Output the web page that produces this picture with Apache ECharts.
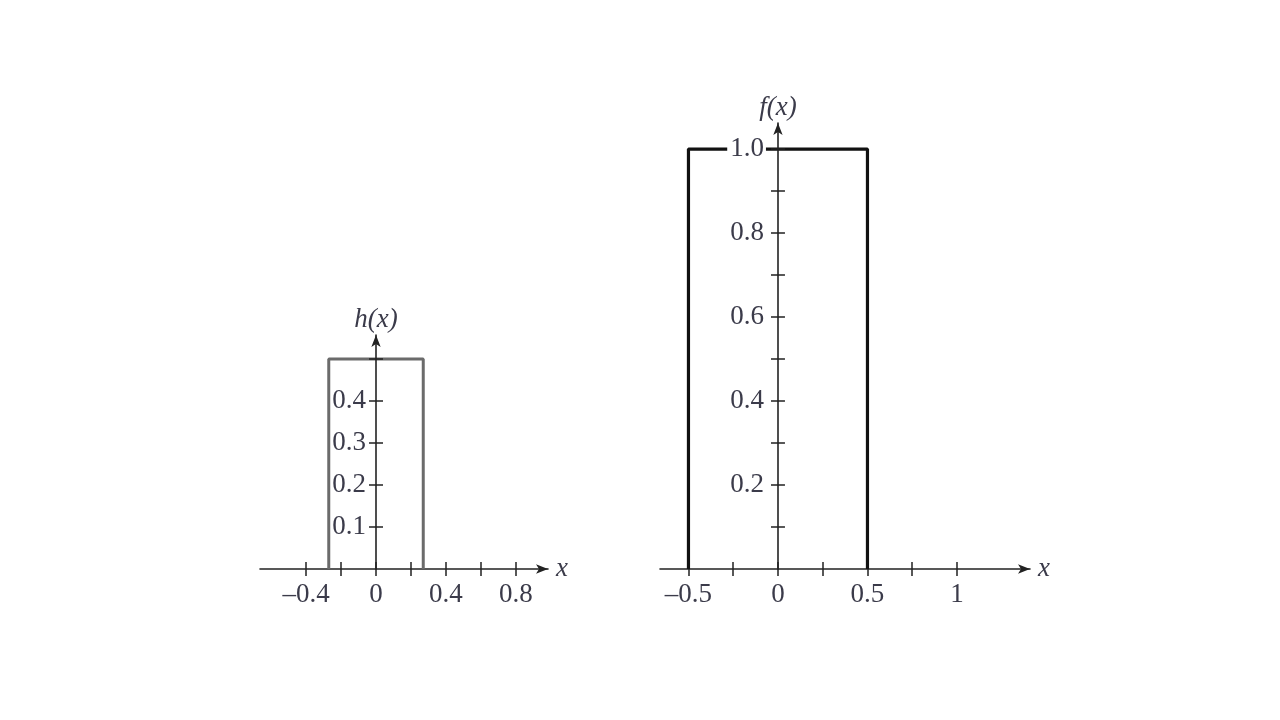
<!DOCTYPE html>
<html>
<head>
<meta charset="utf-8">
<script src="https://cdn.jsdelivr.net/npm/echarts@6/dist/echarts.min.js"></script>
<style>html,body{margin:0;padding:0;background:#fff}#c{width:1280px;height:720px}</style>
</head>
<body>
<div id="c"></div>
<script>
// Left panel: h(x)
const hTicksX = [-0.4, -0.2, 0, 0.2, 0.4, 0.6, 0.8];
const hLabelsX = [-0.4, 0, 0.4, 0.8];
const hTicksY = [0.1, 0.2, 0.3, 0.4, 0.5];
const hLabelsY = [0.1, 0.2, 0.3, 0.4];
const hXs = [-0.27, -0.27, 0.27, 0.27];
const hYs = [0, 0.5, 0.5, 0];
// Right panel: f(x)
const fTicksX = [-0.5, -0.25, 0, 0.25, 0.5, 0.75, 1];
const fLabelsX = [-0.5, 0, 0.5, 1];
const fTicksY = [0.1, 0.2, 0.3, 0.4, 0.5, 0.6, 0.7, 0.8, 0.9, 1.0];
const fLabelsY = [0.2, 0.4, 0.6, 0.8, 1.0];
const fXs = [-0.5, -0.5, 0.5, 0.5];
const fYs = [0, 1, 1, 0];

const FONT = 'Liberation Serif';
const TXT = '#3b3b4a';
const AX = '#222';
const FS = 27;

// layout
const L = { left: 260, top: 335, width: 288, height: 234, xmin: -0.663, xmax: 0.983, ymax: 0.557 };
const R = { left: 660, top: 123, width: 370, height: 446, xmin: -0.659, xmax: 1.408, ymax: 1.062 };
function zeroX(g) { return g.left + (0 - g.xmin) / (g.xmax - g.xmin) * g.width; }

function fmtX(v) { return v < 0 ? '\u2013' + String(Math.abs(v)) : String(v); }

function mainX(grid, g, ticks, labels) {
  return {
    type: 'value', gridIndex: grid, min: g.xmin, max: g.xmax, position: 'bottom',
    name: 'x', nameLocation: 'end', nameGap: 8,
    nameTextStyle: { fontFamily: FONT, fontStyle: 'italic', fontSize: FS, color: TXT },
    axisLine: { show: true, onZero: false, symbol: ['none', 'arrow'], symbolSize: [7, 12], lineStyle: { color: AX, width: 1.6 } },
    axisTick: { show: true, inside: false, length: 7, customValues: ticks, lineStyle: { color: AX, width: 1.5 } },
    axisLabel: { show: true, customValues: labels, formatter: fmtX, margin: 12, fontFamily: FONT, fontSize: FS, color: TXT },
    splitLine: { show: false }
  };
}
function dupX(grid, g, ticks) {
  return {
    type: 'value', gridIndex: grid, min: g.xmin, max: g.xmax, position: 'bottom',
    axisLine: { show: false, onZero: false },
    axisTick: { show: true, inside: true, length: 7, customValues: ticks, lineStyle: { color: AX, width: 1.5 } },
    axisLabel: { show: false }, splitLine: { show: false }
  };
}
function hiddenX(grid) {
  return { type: 'value', gridIndex: grid, min: 0, max: 1, show: false };
}
function hiddenY(grid, g) {
  return { type: 'value', gridIndex: grid, min: 0, max: g.ymax, show: false };
}
function mainY(grid, g, ticks, labels, name, fmt, margin, bg) {
  return {
    type: 'value', gridIndex: grid, min: 0, max: g.ymax, position: 'left', z: 5,
    name: name, nameLocation: 'end', nameGap: 2,
    nameTextStyle: { fontFamily: FONT, fontStyle: 'italic', fontSize: FS, color: TXT, align: 'center' },
    axisLine: { show: true, onZero: false, symbol: ['none', 'arrow'], symbolSize: [7, 12], lineStyle: { color: AX, width: 1.6 } },
    axisTick: { show: true, inside: false, length: 7, customValues: ticks, lineStyle: { color: AX, width: 1.5 } },
    axisLabel: { show: true, customValues: labels, formatter: fmt, margin: margin, fontFamily: FONT, fontSize: FS, color: TXT,
      backgroundColor: bg ? '#fff' : 'transparent', padding: bg ? [0, 2, 0, 3] : 0 },
    splitLine: { show: false }
  };
}
function dupY(grid, g, ticks) {
  return {
    type: 'value', gridIndex: grid, min: 0, max: g.ymax, position: 'left', z: 5,
    axisLine: { show: false, onZero: false },
    axisTick: { show: true, inside: true, length: 7, customValues: ticks, lineStyle: { color: AX, width: 1.5 } },
    axisLabel: { show: false }, splitLine: { show: false }
  };
}

const chart = echarts.init(document.getElementById('c'), null, { renderer: 'canvas' });
chart.setOption({
  backgroundColor: '#fff',
  animation: false,
  grid: [
    { left: L.left, top: L.top, width: L.width, height: L.height },
    { left: R.left, top: R.top, width: R.width, height: R.height },
    { left: zeroX(L), top: L.top, width: 20, height: L.height },
    { left: zeroX(R), top: R.top, width: 20, height: R.height }
  ],
  xAxis: [
    mainX(0, L, hTicksX, hLabelsX),
    dupX(0, L, hTicksX),
    mainX(1, R, fTicksX, fLabelsX),
    dupX(1, R, fTicksX),
    hiddenX(2),
    hiddenX(3)
  ],
  yAxis: [
    hiddenY(0, L),
    hiddenY(1, R),
    mainY(2, L, hTicksY, hLabelsY, 'h(x)', v => String(v), 10, false),
    dupY(2, L, hTicksY),
    mainY(3, R, fTicksY, fLabelsY, 'f(x)', v => v.toFixed(1), 12, true),
    dupY(3, R, fTicksY)
  ],
  series: [
    { type: 'line', xAxisIndex: 0, yAxisIndex: 0, z: 2, showSymbol: false, symbol: 'none',
      lineStyle: { color: '#6b6b6b', width: 3 }, data: hXs.map((x, i) => [x, hYs[i]]) },
    { type: 'line', xAxisIndex: 2, yAxisIndex: 1, z: 2, showSymbol: false, symbol: 'none',
      lineStyle: { color: '#111', width: 3.2 }, data: fXs.map((x, i) => [x, fYs[i]]) }
  ]
});
</script>
</body>
</html>
